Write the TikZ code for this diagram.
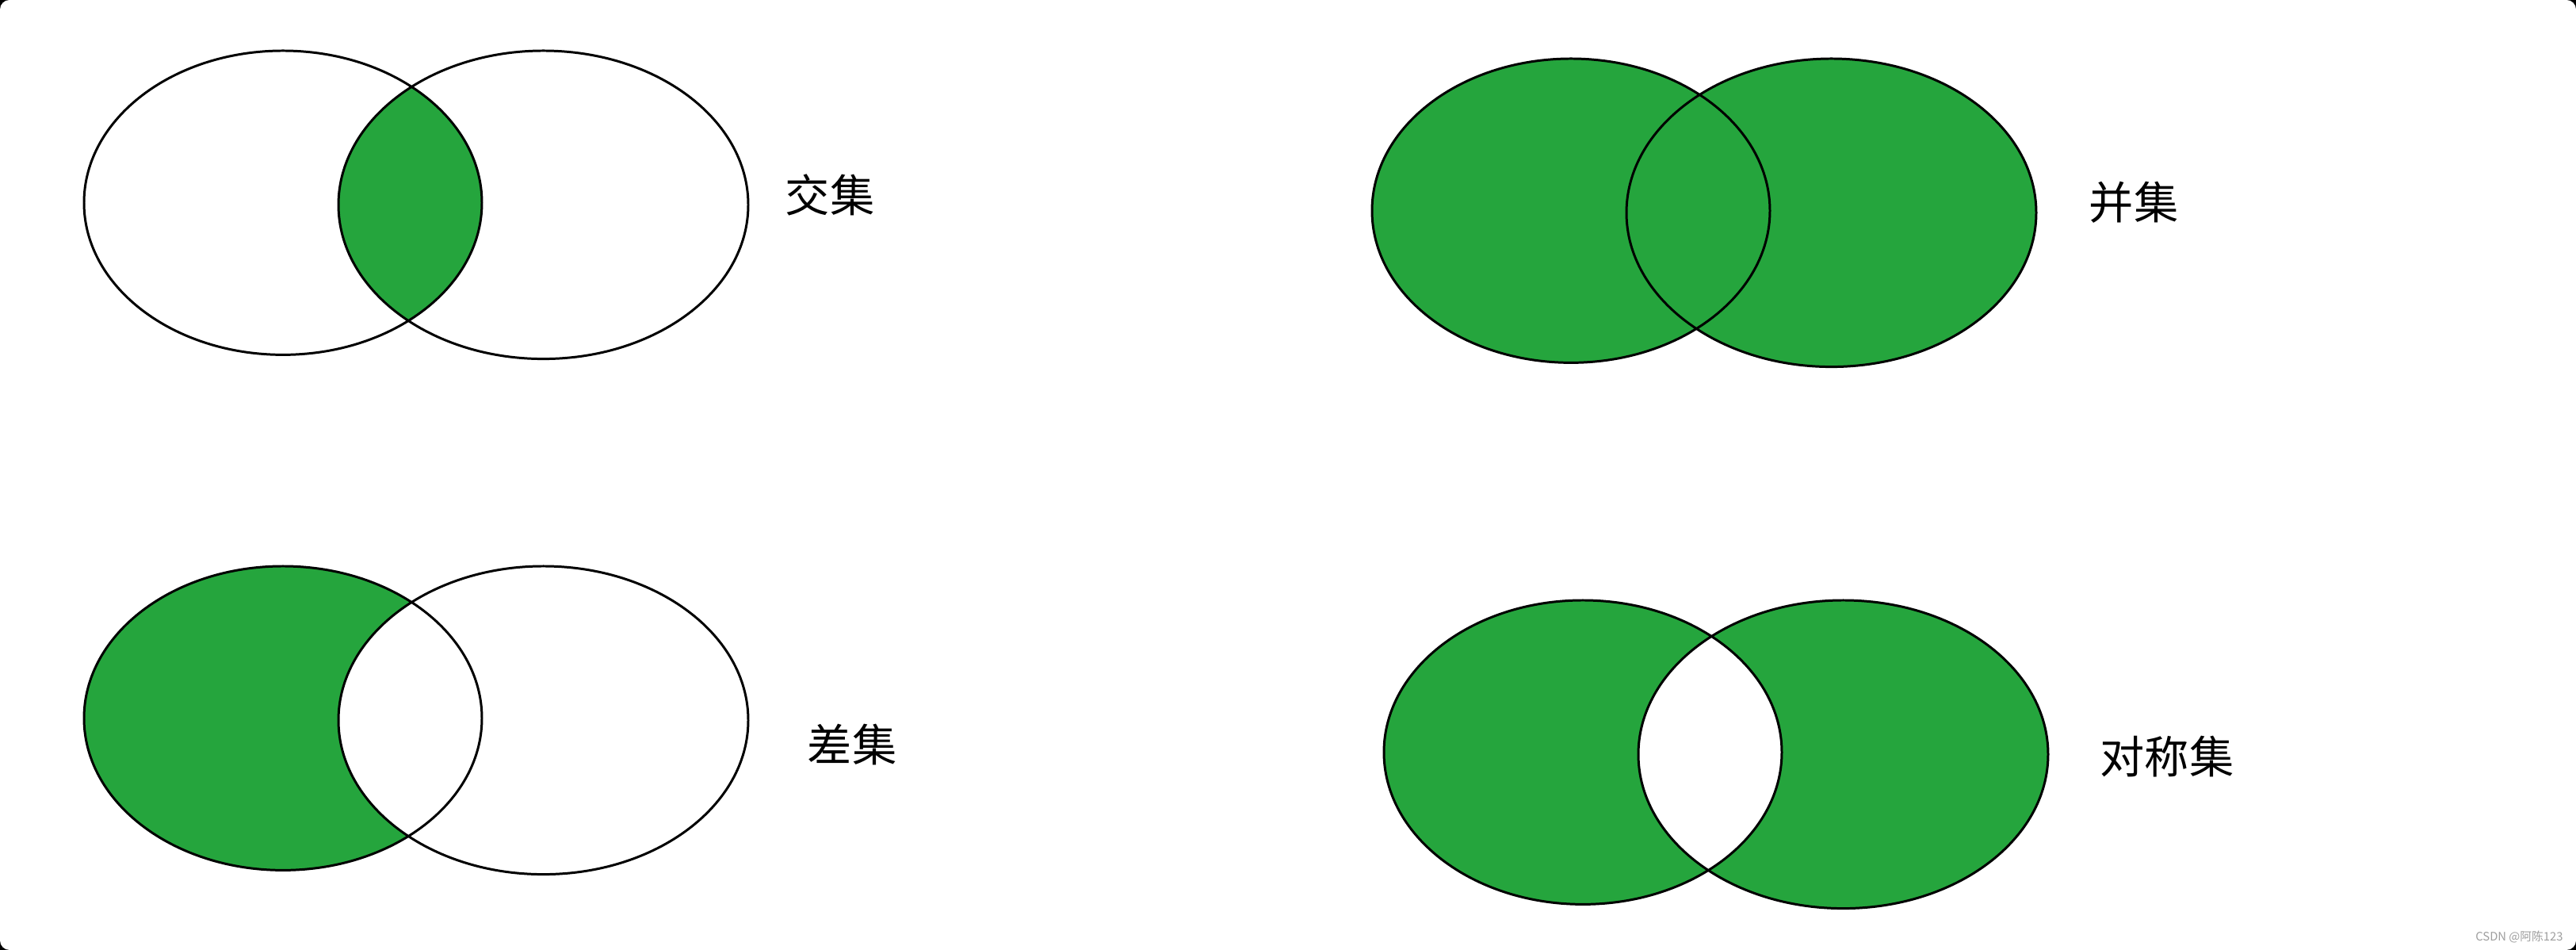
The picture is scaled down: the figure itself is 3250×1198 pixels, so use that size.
\documentclass[tikz,border=0pt]{standalone}
\usepackage{fontspec}
\newfontfamily\cjk{Noto Sans CJK SC}
\usetikzlibrary{positioning}
\definecolor{setgreen}{RGB}{37,165,61}
\newcommand{\setA}{(357,255.7) ellipse [x radius=251, y radius=191.7]}
\newcommand{\setB}{(685.5,258.3) ellipse [x radius=258.5, y radius=194.3]}

\begin{document}
\begin{tikzpicture}[x=0.01cm, y=-0.01cm, line width=0.85pt,
  tag/.style={font=\cjk\fontsize{16}{16}\selectfont, inner sep=0pt},
  credit/.style={font=\cjk\fontsize{4.2}{4.2}\selectfont, text=black!38, inner sep=0pt}]
\fill[black] (0,0) rectangle (3250,1198);
\fill[white, rounded corners=0.12cm] (0,0) rectangle (3250,1198);
\useasboundingbox (0,0) rectangle (3250,1198);

\begin{scope}
\begin{scope} \clip \setA; \fill[setgreen] \setB; \end{scope}
\draw \setA \setB;
\end{scope}
\node[tag] (inter) at (1047,246) {交集};

\begin{scope}[shift={(1625,10)}]
\fill[setgreen] \setA \setB;
\draw \setA \setB;
\end{scope}
\node[tag] (union) at (2692,255) {并集};

\begin{scope}[shift={(0,650)}]
\fill[setgreen] \setA;
\fill[white] \setB;
\draw \setA \setB;
\end{scope}
\node[tag] (diff) at (1075,939) {差集};

\begin{scope}[shift={(1640,693)}]
\fill[setgreen] \setA;
\fill[setgreen] \setB;
\begin{scope} \clip \setA; \fill[white] \setB; \end{scope}
\draw \setA \setB;
\end{scope}
\node[tag] (symm) at (2734,954) {对称集};

\node[credit, anchor=east] (wmark) at (3235,1182) {CSDN @阿陈123};
\end{tikzpicture}
\end{document}
